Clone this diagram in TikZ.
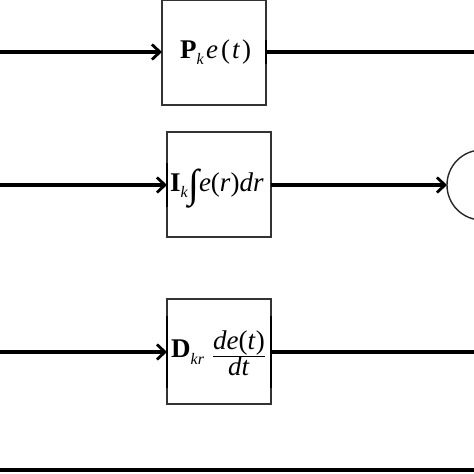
\documentclass[tikz,border=0pt]{standalone}
\usepackage{fontspec}
\setmainfont{Liberation Serif}
\usetikzlibrary{arrows.meta}
\newcommand{\bigtxt}{\fontsize{27}{30}\selectfont}
\newcommand{\subtxt}{\fontsize{16}{18}\selectfont}
\tikzset{
  sig/.style={line width=3.2pt, black},
  sigarrow/.style={sig, -{Straight Barb[length=8pt,width=15pt,line width=2.8pt]}},
  blockbox/.style={draw=black!80, line width=1.3pt, minimum width=104pt, minimum height=105pt, inner sep=0pt, outer sep=0pt},
  lbl/.style={font=\bigtxt, inner sep=0pt},
  sumcirc/.style={draw=black!85, line width=1.4pt, circle, minimum size=70pt, inner sep=0pt, outer sep=0pt}
}
\begin{document}
\begin{tikzpicture}[x=1pt,y=1pt]
\useasboundingbox (0,0) rectangle (474,474);
% blocks
\node[blockbox] (P) at (214,421.5) {};
\node[blockbox] (I) at (219,289.5) {};
\node[blockbox] (D) at (219,122.5) {};
\node[sumcirc] (S) at (482,289) {};
% labels
\node[lbl, anchor=base west] (pl) at (180,415) {\textbf{P}\raisebox{-6pt}{\subtxt\textit{k}}\hspace{2pt}\textit{e}\hspace{3pt}(\hspace{2pt}\textit{t}\hspace{2pt})};
\node[lbl, anchor=base west] (il) at (170,282) {\textbf{I}\raisebox{-6pt}{\subtxt\textit{k}}\raisebox{-6pt}{\fontsize{40}{42}\selectfont ∫}\textit{e}(\textit{r})\textit{dr}};
\node[lbl, anchor=base west] (dl) at (171,116) {\textbf{D}\raisebox{-7pt}{\subtxt\textit{kr}}};
\node[lbl, anchor=center] (dfrac) at (239,121) {$\frac{\hbox{\bigtxt\textit{de}(\textit{t})}}{\hbox{\bigtxt\textit{dt}}}$};
% coordinates for free ends
\coordinate (pin) at (0,422);
\coordinate (pout) at (474,422);
\coordinate (iin) at (0,289);
\coordinate (din) at (0,122);
\coordinate (dout) at (474,122);
\coordinate (bl) at (0,4);
\coordinate (br) at (474,4);
% connectors
\draw[sigarrow] (pin) -- (pin -| P.west);
\draw[sig] (pout -| P.east) -- (pout);
\draw[sigarrow] (iin) -- (iin -| I.west);
\draw[sigarrow] (iin -| I.east) -- (S.west);
\draw[sigarrow] (din) -- (din -| D.west);
\draw[sig] (dout -| D.east) -- (dout);
\draw[sig] (bl) -- (br);
% thick border marks
\draw[line width=2.2pt] ([yshift=-12pt]P.east |- pout) -- ([yshift=12pt]P.east |- pout);
\draw[line width=2.2pt] ([yshift=-22pt]I.west |- iin) -- ([yshift=22pt]I.west |- iin);
\draw[line width=2.2pt] ([yshift=-36pt]D.west |- din) -- ([yshift=36pt]D.west |- din);
\draw[line width=2.2pt] ([yshift=-36pt]D.east |- dout) -- ([yshift=36pt]D.east |- dout);
\draw[line width=2pt, black!80] (P.north west) -- (P.north east);
\end{tikzpicture}
\end{document}
